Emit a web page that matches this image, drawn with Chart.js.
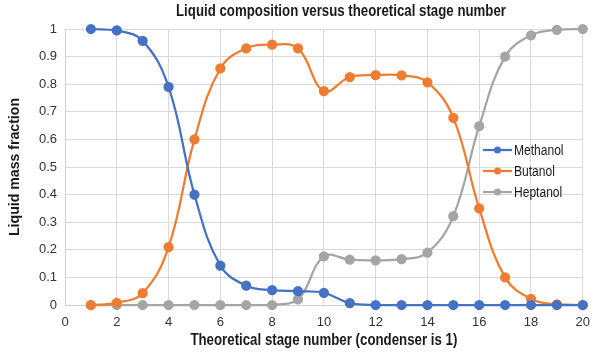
<!DOCTYPE html>
<html><head><meta charset="utf-8">
<script src="https://cdn.jsdelivr.net/npm/chart.js@4/dist/chart.umd.min.js"></script>
<style>html,body{margin:0;padding:0;background:#fff}#wrap{width:600px;height:358px}</style>
</head><body><div id="wrap"><canvas id="c" width="600" height="358"></canvas></div>
<script>
const stages = [1,2,3,4,5,6,7,8,9,10,11,12,13,14,15,16,17,18,19,20];
const methanol = [1.0,0.995,0.957,0.79,0.40,0.143,0.07,0.054,0.05,0.044,0.007,0,0,0,0,0,0,0,0,0];
const butanol  = [0,0.008,0.043,0.21,0.60,0.857,0.93,0.943,0.93,0.775,0.826,0.833,0.832,0.807,0.678,0.35,0.10,0.022,0.002,0];
const heptanol = [0,0,0,0,0,0,0,0,0.02,0.176,0.164,0.162,0.166,0.19,0.322,0.648,0.90,0.977,0.997,1.0];
const seriesNames = ['Methanol','Butanol','Heptanol'];
const seriesColors = ['#4472C4','#ED7D31','#A5A5A5'];
const titleText = 'Liquid composition versus theoretical stage number';
const xTitle = 'Theoretical stage number (condenser is 1)';
const yTitle = 'Liquid mass fraction';

const FONT = '"Liberation Sans Narrow","Liberation Sans",Arial,sans-serif';
const mk = (name, vals, col) => ({
  label: name,
  data: stages.map((s,i)=>({x:s,y:vals[i]})),
  borderColor: col, backgroundColor: col,
  pointBackgroundColor: col, pointBorderColor: col,
  borderWidth: 2.25, pointRadius: 4, tension: 0.4, clip: false
});

function narrowText(ctx, text, cx, cy, font, targetW) {
  ctx.save();
  ctx.font = font;
  const w = ctx.measureText(text).width;
  const k = Math.min(1, targetW / w);
  ctx.translate(cx, cy);
  ctx.scale(k, 1);
  ctx.textAlign = 'center'; ctx.textBaseline = 'middle';
  ctx.fillText(text, 0, 0);
  ctx.restore();
}

const deco = {
  id: 'deco',
  afterDraw(chart) {
    const ctx = chart.ctx, a = chart.chartArea;
    ctx.save();
    ctx.fillStyle = '#1a1a1a';
    narrowText(ctx, titleText, 341, 12, 'bold 16px ' + FONT, 330);
    narrowText(ctx, xTitle, (a.left + a.right)/2, 341, 'bold 16px ' + FONT, 267);
    ctx.translate(15, (a.top + a.bottom)/2);
    ctx.rotate(-Math.PI/2);
    narrowText(ctx, yTitle, 0, 0, 'bold 15px ' + FONT, 138);
    ctx.restore();
    // legend
    ctx.save();
    const ys = [150, 171, 192];
    seriesNames.forEach((n,i)=>{
      const y = ys[i];
      ctx.strokeStyle = seriesColors[i]; ctx.lineWidth = 2.25;
      ctx.beginPath(); ctx.moveTo(483, y); ctx.lineTo(512, y); ctx.stroke();
      ctx.fillStyle = seriesColors[i];
      ctx.beginPath(); ctx.arc(497.5, y, 3.5, 0, Math.PI*2); ctx.fill();
      ctx.fillStyle = '#1a1a1a';
      ctx.save();
      ctx.font = '14px ' + FONT;
      ctx.translate(514, y + 1);
      ctx.scale(0.86, 1);
      ctx.textAlign = 'left'; ctx.textBaseline = 'middle';
      ctx.fillText(n, 0, 0);
      ctx.restore();
    });
    ctx.restore();
  }
};

new Chart(document.getElementById('c'), {
  type: 'line',
  data: { datasets: [mk(seriesNames[0], methanol, seriesColors[0]), mk(seriesNames[1], butanol, seriesColors[1]), mk(seriesNames[2], heptanol, seriesColors[2])] },
  options: {
    responsive: false, animation: false,
    layout: { padding: { top: 29, right: 16, left: 0, bottom: 0 } },
    plugins: { legend: { display: false }, title: { display: false }, tooltip: { enabled: false } },
    scales: {
      x: {
        type: 'linear', min: 0, max: 20,
        ticks: { stepSize: 2, color: '#333', font: { family: FONT, size: 13 }, padding: 10, maxRotation: 0 },
        grid: { color: '#d9d9d9', lineWidth: 1, drawTicks: false },
        border: { color: '#d0d0d0' },
        afterFit(s) { s.height = 53; }
      },
      y: {
        min: 0, max: 1,
        ticks: { stepSize: 0.1, color: '#333', font: { family: FONT, size: 13 }, padding: 8,
          callback: v => Math.round(v*10)/10 },
        grid: { color: '#d9d9d9', lineWidth: 1, drawTicks: false },
        border: { color: '#d0d0d0' },
        afterFit(s) { s.width = 65; }
      }
    }
  },
  plugins: [deco]
});
</script></body></html>
